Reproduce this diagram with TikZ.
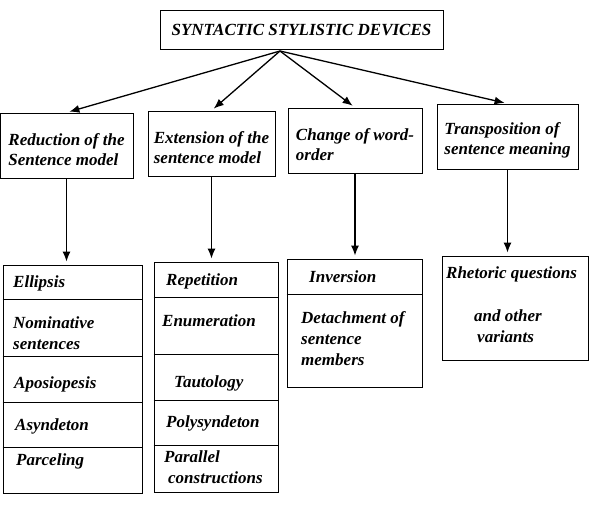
\documentclass[tikz,border=0pt]{standalone}
\usepackage{fontspec}
\setmainfont{Liberation Serif}
\usetikzlibrary{arrows.meta}
\tikzset{
  every node/.style={font=\bfseries\itshape\fontsize{17}{20}\selectfont},
  title/.style={draw, line width=0.9pt, minimum width=283pt, minimum height=39pt},
  group/.style={draw, line width=0.9pt, align=left, minimum width=#1, minimum height=65pt,
    text height=40pt},
  column/.style 2 args={draw, line width=0.9pt, inner sep=0pt, minimum width=#1, minimum height=#2},
  item/.style={anchor=west, inner sep=0pt, align=left,
    font=\bfseries\itshape\fontsize{17}{21}\selectfont},
  arr/.style={-{Latex[length=10pt,width=8pt]}, line width=1.3pt, shorten >=3pt}
}
\begin{document}
\begin{tikzpicture}[x=1pt,y=-1pt]
      \useasboundingbox (0,0) rectangle (595,507);
      \draw
        (301.5,29.5) node[title] (sd){SYNTACTIC STYLISTIC DEVICES}
        (66.5,145.5) node[group=133pt] (red){Reduction of the\\Sentence model}
        (211.5,143.5) node[group=127pt] (ext){Extension of the\\sentence model}
        (355,140.5) node[group=134pt] (ord){Change of word-\\order}
        (507.5,136.5) node[group=141pt] (tra){Transposition of\\sentence meaning};
      \draw
        (72.5,379) node[column={139pt}{228pt}] (redlist){}
        (216,377) node[column={124pt}{230pt}] (extlist){}
        (354.5,323) node[column={135pt}{128pt}] (ordlist){}
        (515,308) node[column={146pt}{104pt}] (tralist){};
      % rules between the items
      \foreach \y in {299,356,402,447}
        \draw[line width=0.9pt] (redlist.west |- 0,\y) -- (redlist.east |- 0,\y);
      \foreach \y in {297,354,400,445}
        \draw[line width=0.9pt] (extlist.west |- 0,\y) -- (extlist.east |- 0,\y);
      \draw[line width=0.9pt] (ordlist.west |- 0,294) -- (ordlist.east |- 0,294);
      \draw
        (13,283) node[item] (ellipsis){Ellipsis}
        (13,333) node[item] (nominative){Nominative\\sentences}
        (14,384) node[item] (aposiopesis){Aposiopesis}
        (15,426) node[item] (asyndeton){Asyndeton}
        (16,461) node[item] (parceling){Parceling}
        (166,281) node[item] (repetition){Repetition}
        (162,321) node[item] (enumeration){Enumeration}
        (174,383) node[item] (tautology){Tautology}
        (166,423) node[item] (polysyndeton){Polysyndeton}
        (164,467.5) node[item] (parallel){Parallel\\\hspace{4pt}constructions}
        (309,277) node[item] (inversion){Inversion}
        (301,339) node[item] (detachment){Detachment of\\sentence\\members}
        (446,274) node[item] (rhetoric){Rhetoric questions}
        (474,326.5) node[item] (variants){and other\\\hspace{3pt}variants};
      \coordinate (apex) at (280,51);
      \begin{scope}[arr]
        \draw (apex) to (red.north);
        \draw (apex) to (ext.north);
        \draw (apex) to (ord.north);
        \draw (apex) to (tra.north);
        \draw (red.south) to (red.south |- redlist.north);
        \draw (ext.south) to (ext.south |- extlist.north);
        \draw (ord.south) to (ord.south |- ordlist.north);
        \draw (tra.south) to (tra.south |- tralist.north);
      \end{scope}
    \end{tikzpicture}
\end{document}
